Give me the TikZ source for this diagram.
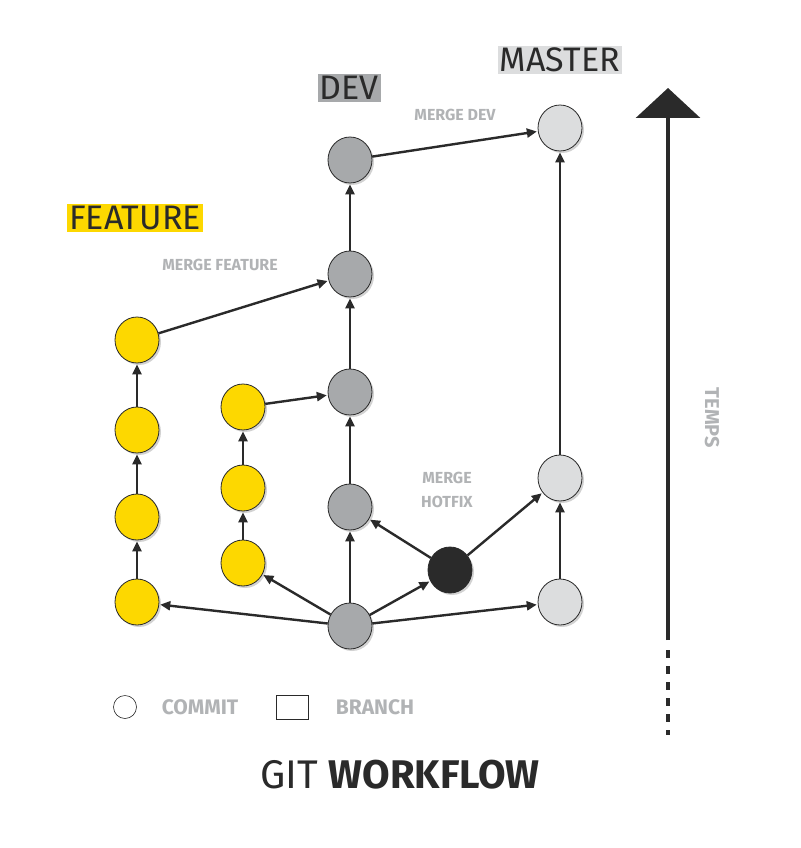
\documentclass[tikz,border=0pt]{standalone}
\usepackage{fontspec}
\setmainfont{Fira Sans}
\usetikzlibrary{arrows.meta,shapes.geometric,shadows}
\definecolor{fy}{HTML}{FDD800}
\definecolor{dg}{HTML}{A7A9AB}
\definecolor{lg}{HTML}{DCDDDE}
\definecolor{ink}{HTML}{2A2A2A}
\definecolor{lbl}{HTML}{B1B3B5}
\begin{document}
\begin{tikzpicture}[x=1pt,y=-1pt,
  c/.style={ellipse,draw=ink,line width=0.8pt,minimum width=44pt,minimum height=46pt,inner sep=0pt,drop shadow={shadow xshift=2pt,shadow yshift=-2pt,opacity=0.35}},
  feat/.style={c,fill=fy}, dev/.style={c,fill=dg}, mas/.style={c,fill=lg},
  ar/.style={-{Triangle[length=10pt,width=9pt]},line width=2.4pt,draw=ink,shorten >=1pt},
  lab/.style={text=lbl,font=\bfseries\fontsize{16}{18}\selectfont,align=center},
  br/.style={font=\fontsize{34}{36}\selectfont,text=ink,inner sep=2pt}]
\useasboundingbox (0,0) rectangle (800,848);
\fill[white] (0,0) rectangle (800,848);
% feature column 1
\node[feat] (f1) at (137,602) {};
\node[feat] (f2) at (137,517) {};
\node[feat] (f3) at (137,430) {};
\node[feat] (f4) at (137,340) {};
% feature column 2
\node[feat] (g1) at (243,563) {};
\node[feat] (g2) at (243,488) {};
\node[feat] (g3) at (243,407) {};
% dev
\node[dev] (d0) at (350,626) {};
\node[dev] (d1) at (350,507) {};
\node[dev] (d2) at (350,392) {};
\node[dev] (d3) at (350,274) {};
\node[dev] (d4) at (350,160) {};
% hotfix
\node[c,fill=ink] (h) at (450,570) {};
% master
\node[mas] (m0) at (560,602) {};
\node[mas] (m1) at (560,478) {};
\node[mas] (m2) at (560,128) {};
% edges
\draw[ar] (d0) -- (f1);
\draw[ar] (f1) -- (f2);
\draw[ar] (f2) -- (f3);
\draw[ar] (f3) -- (f4);
\draw[ar] (f4) -- (d3);
\draw[ar] (d0) -- (g1);
\draw[ar] (g1) -- (g2);
\draw[ar] (g2) -- (g3);
\draw[ar] (g3) -- (d2);
\draw[ar] (d0) -- (d1);
\draw[ar] (d1) -- (d2);
\draw[ar] (d2) -- (d3);
\draw[ar] (d3) -- (d4);
\draw[ar] (d4) -- (m2);
\draw[ar] (d0) -- (h);
\draw[ar] (h) -- (d1);
\draw[ar] (h) -- (m1);
\draw[ar] (d0) -- (m0);
\draw[ar] (m0) -- (m1);
\draw[ar] (m1) -- (m2);
% branch labels
\node[br,fill=lg] (lm) at (560,60) {MASTER};
\node[br,fill=dg] (ld) at (349,88) {DEV};
\node[br,fill=fy] (lf) at (135,218) {FEATURE};
% merge labels
\node[lab] (t1) at (455,115) {MERGE DEV};
\node[lab] (t2) at (220,265) {MERGE FEATURE};
\node[lab,font=\bfseries\fontsize{16}{24}\selectfont] (t3) at (447,490) {MERGE\\HOTFIX};
% time arrow
\coordinate (tb) at (668,640);
\coordinate (tt) at (668,88);
\draw[line width=3.5pt,draw=ink,-{Triangle[length=30pt,width=64pt]}] (tb) -- (tt);
\coordinate (db) at (668,735);
\coordinate (dt) at (668,650);
\draw[line width=3.5pt,draw=ink,dash pattern=on 8pt off 8pt] (dt) -- (db);
\node[lab,rotate=-90,font=\bfseries\fontsize{20}{22}\selectfont] (tm) at (712,418) {TEMPS};
% legend
\node[circle,draw=ink,line width=0.6pt,minimum size=23pt,inner sep=0pt] (lc) at (125,707) {};
\node[lab,font=\bfseries\fontsize{21}{22}\selectfont] (lcom) at (200,707) {COMMIT};
\node[draw=ink,line width=0.6pt,minimum width=32pt,minimum height=24pt,inner sep=0pt] (lr) at (292,707) {};
\node[lab,font=\bfseries\fontsize{21}{22}\selectfont] (lbr) at (375,707) {BRANCH};
% title
\node[text=ink,font=\fontsize{40}{44}\selectfont] (title) at (400,775) {GIT \textbf{WORKFLOW}};
\end{tikzpicture}
\end{document}
